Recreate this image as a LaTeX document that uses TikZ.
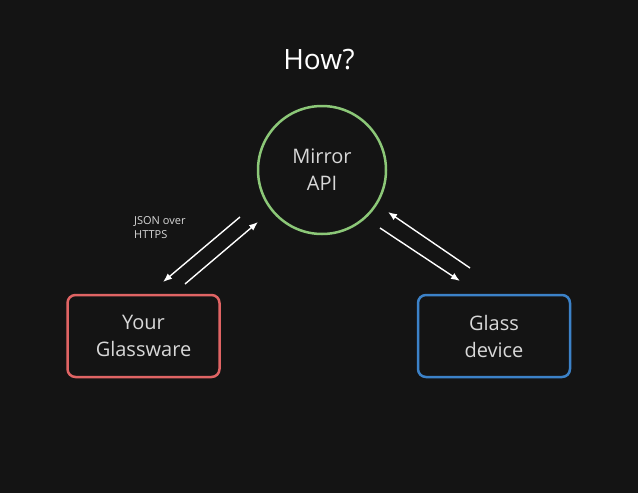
\documentclass[tikz,border=0pt]{standalone}
\usepackage{fontspec}
\setmainfont{Open Sans}
\definecolor{bg}{HTML}{141414}
\definecolor{gr}{HTML}{8CC878}
\definecolor{rd}{HTML}{E06464}
\definecolor{bl}{HTML}{3C82C8}
\definecolor{tx}{HTML}{D8D8D8}
\begin{document}
\begin{tikzpicture}[x=1pt,y=-1pt,
  box/.style={draw,line width=2.5pt,rounded corners=8pt,minimum width=152pt,minimum height=82pt,align=center,text=tx,font=\fontsize{20}{27}\selectfont},
  arr/.style={draw=white,line width=1.4pt,-{Latex[length=9pt,width=7pt]}}]
\usetikzlibrary{arrows.meta}
\fill[bg] (0,0) rectangle (638,493);
\useasboundingbox (0,0) rectangle (638,493);
\node[text=white,font=\fontsize{28}{30}\selectfont] (t) at (319,60) {How?};
\node[draw=gr,circle,line width=2.5pt,minimum size=128pt,align=center,text=tx,font=\fontsize{20}{27}\selectfont] (m) at (322,170) {Mirror\\API};
\node[box,draw=rd] (y) at (143.5,336) {Your\\Glassware};
\node[box,draw=bl] (g) at (494,336) {Glass\\device};
\coordinate (a1) at (240,217); \coordinate (a2) at (163,282);
\coordinate (b1) at (185,284); \coordinate (b2) at (258,222);
\coordinate (c1) at (380,228); \coordinate (c2) at (460,281);
\coordinate (d1) at (470,268); \coordinate (d2) at (388,212);
\draw[arr] (a1) -- (a2);
\draw[arr] (b1) -- (b2);
\draw[arr] (c1) -- (c2);
\draw[arr] (d1) -- (d2);
\node[anchor=north west,align=left,text=tx,font=\fontsize{11}{14}\selectfont,inner sep=0pt] (l) at (134,216) {JSON over\\HTTPS};
\end{tikzpicture}
\end{document}
